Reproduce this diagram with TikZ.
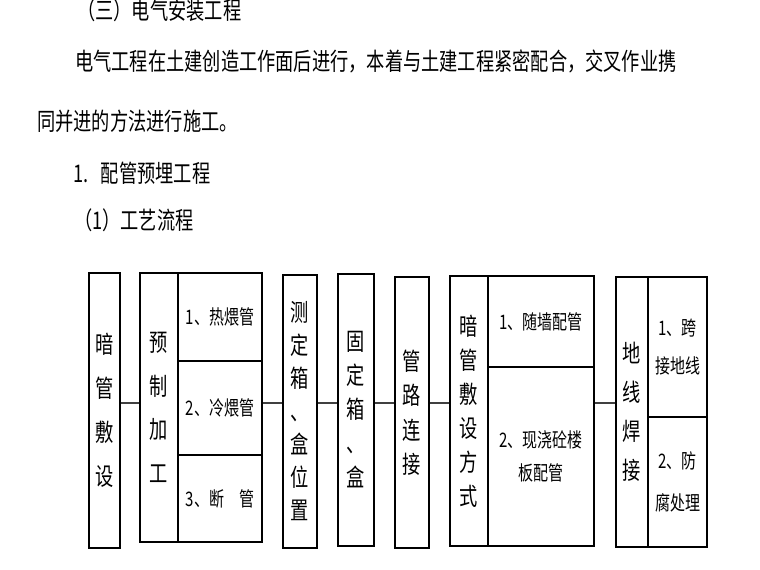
\documentclass[tikz,border=0pt]{standalone}
\usepackage{fontspec}
\setmainfont{Noto Sans CJK SC}[FakeStretch=0.75]

\begin{document}
\begin{tikzpicture}[x=1bp, y=-1bp,
    box/.style={draw, line width=1.8bp, inner sep=0pt, align=center},
    vtext/.style={font=\fontsize{24.3bp}{#1}\selectfont},
    ctext/.style={font=\fontsize{20bp}{#1}\selectfont},
    head/.style={anchor=base west, inner sep=0pt, font=\fontsize{24.3bp}{29bp}\selectfont},
    flowline/.style={line width=1.1bp, color=black!75}]

    \useasboundingbox (0,0) rectangle (760,570);

    % constants
    \def\flowy{403}

    % heading text
    \node [head] (h1) at (77,19.2) {（三）电气安装工程};
    \node [head] (h2) at (75,70.2) {电气工程在土建创造工作面后进行，本着与土建工程紧密配合，交叉作业携};
    \node [head] (h3) at (37,130.2) {同并进的方法进行施工。};
    \node [head] (h4) at (73.5,182.7) {1.\kern12bp 配管预埋工程};
    \node [head] (h5) at (74,229.2) {（1）工艺流程};

    % flow boxes
    \node [box, vtext=44bp, minimum width=31bp, minimum height=275bp] (b1) at (104.5,410.5) {暗\\管\\敷\\设};

    \node [box, vtext=43.5bp, minimum width=38bp, minimum height=269bp] (b2) at (159,407.5) {预\\制\\加\\工};
    \node [box, ctext=24bp, minimum width=84bp, minimum height=88bp] (b2a) at (220,317) {1、热煨管};
    \node [box, ctext=24bp, minimum width=84bp, minimum height=94bp] (b2b) at (220,408) {2、冷煨管};
    \node [box, ctext=24bp, minimum width=84bp, minimum height=87bp] (b2c) at (220,498.5) {3、断　管};

    \node [box, vtext=33bp, minimum width=34bp, minimum height=273bp] (b3) at (300,411.5) {测\\定\\箱\\、\\盒\\位\\置};
    \node [box, vtext=34bp, minimum width=36bp, minimum height=272bp] (b4) at (356,410) {固\\定\\箱\\、\\盒};
    \node [box, vtext=34.5bp, minimum width=34bp, minimum height=271bp] (b5) at (412,412.5) {管\\路\\连\\接};

    \node [box, vtext=34bp, minimum width=38bp, minimum height=270bp] (b6) at (469,411) {暗\\管\\敷\\设\\方\\式};
    \node [box, ctext=24bp, minimum width=106bp, minimum height=91bp] (b6a) at (541,321.5) {1、随墙配管};
    \node [box, ctext=33bp, minimum width=106bp, minimum height=179bp] (b6b) at (541,456.5) {2、现浇砼楼\\板配管};

    \node [box, vtext=39bp, minimum width=32bp, minimum height=270bp] (b7) at (632,412) {地\\线\\焊\\接};
    \node [box, ctext=38bp, minimum width=59bp, minimum height=140bp] (b7a) at (677.5,347) {1、跨\\接地线};
    \node [box, ctext=42bp, minimum width=59bp, minimum height=130bp] (b7b) at (677.5,482) {2、防\\腐处理};

    % connectors
    \coordinate (flow) at (0,\flowy);
    \draw [flowline] (b1.east |- flow) -- (b2.west |- flow);
    \draw [flowline] (b2b.east |- flow) -- (b3.west |- flow);
    \draw [flowline] (b3.east |- flow) -- (b4.west |- flow);
    \draw [flowline] (b4.east |- flow) -- (b5.west |- flow);
    \draw [flowline] (b5.east |- flow) -- (b6.west |- flow);
    \draw [flowline] (b6b.east |- flow) -- (b7.west |- flow);

\end{tikzpicture}
\end{document}
